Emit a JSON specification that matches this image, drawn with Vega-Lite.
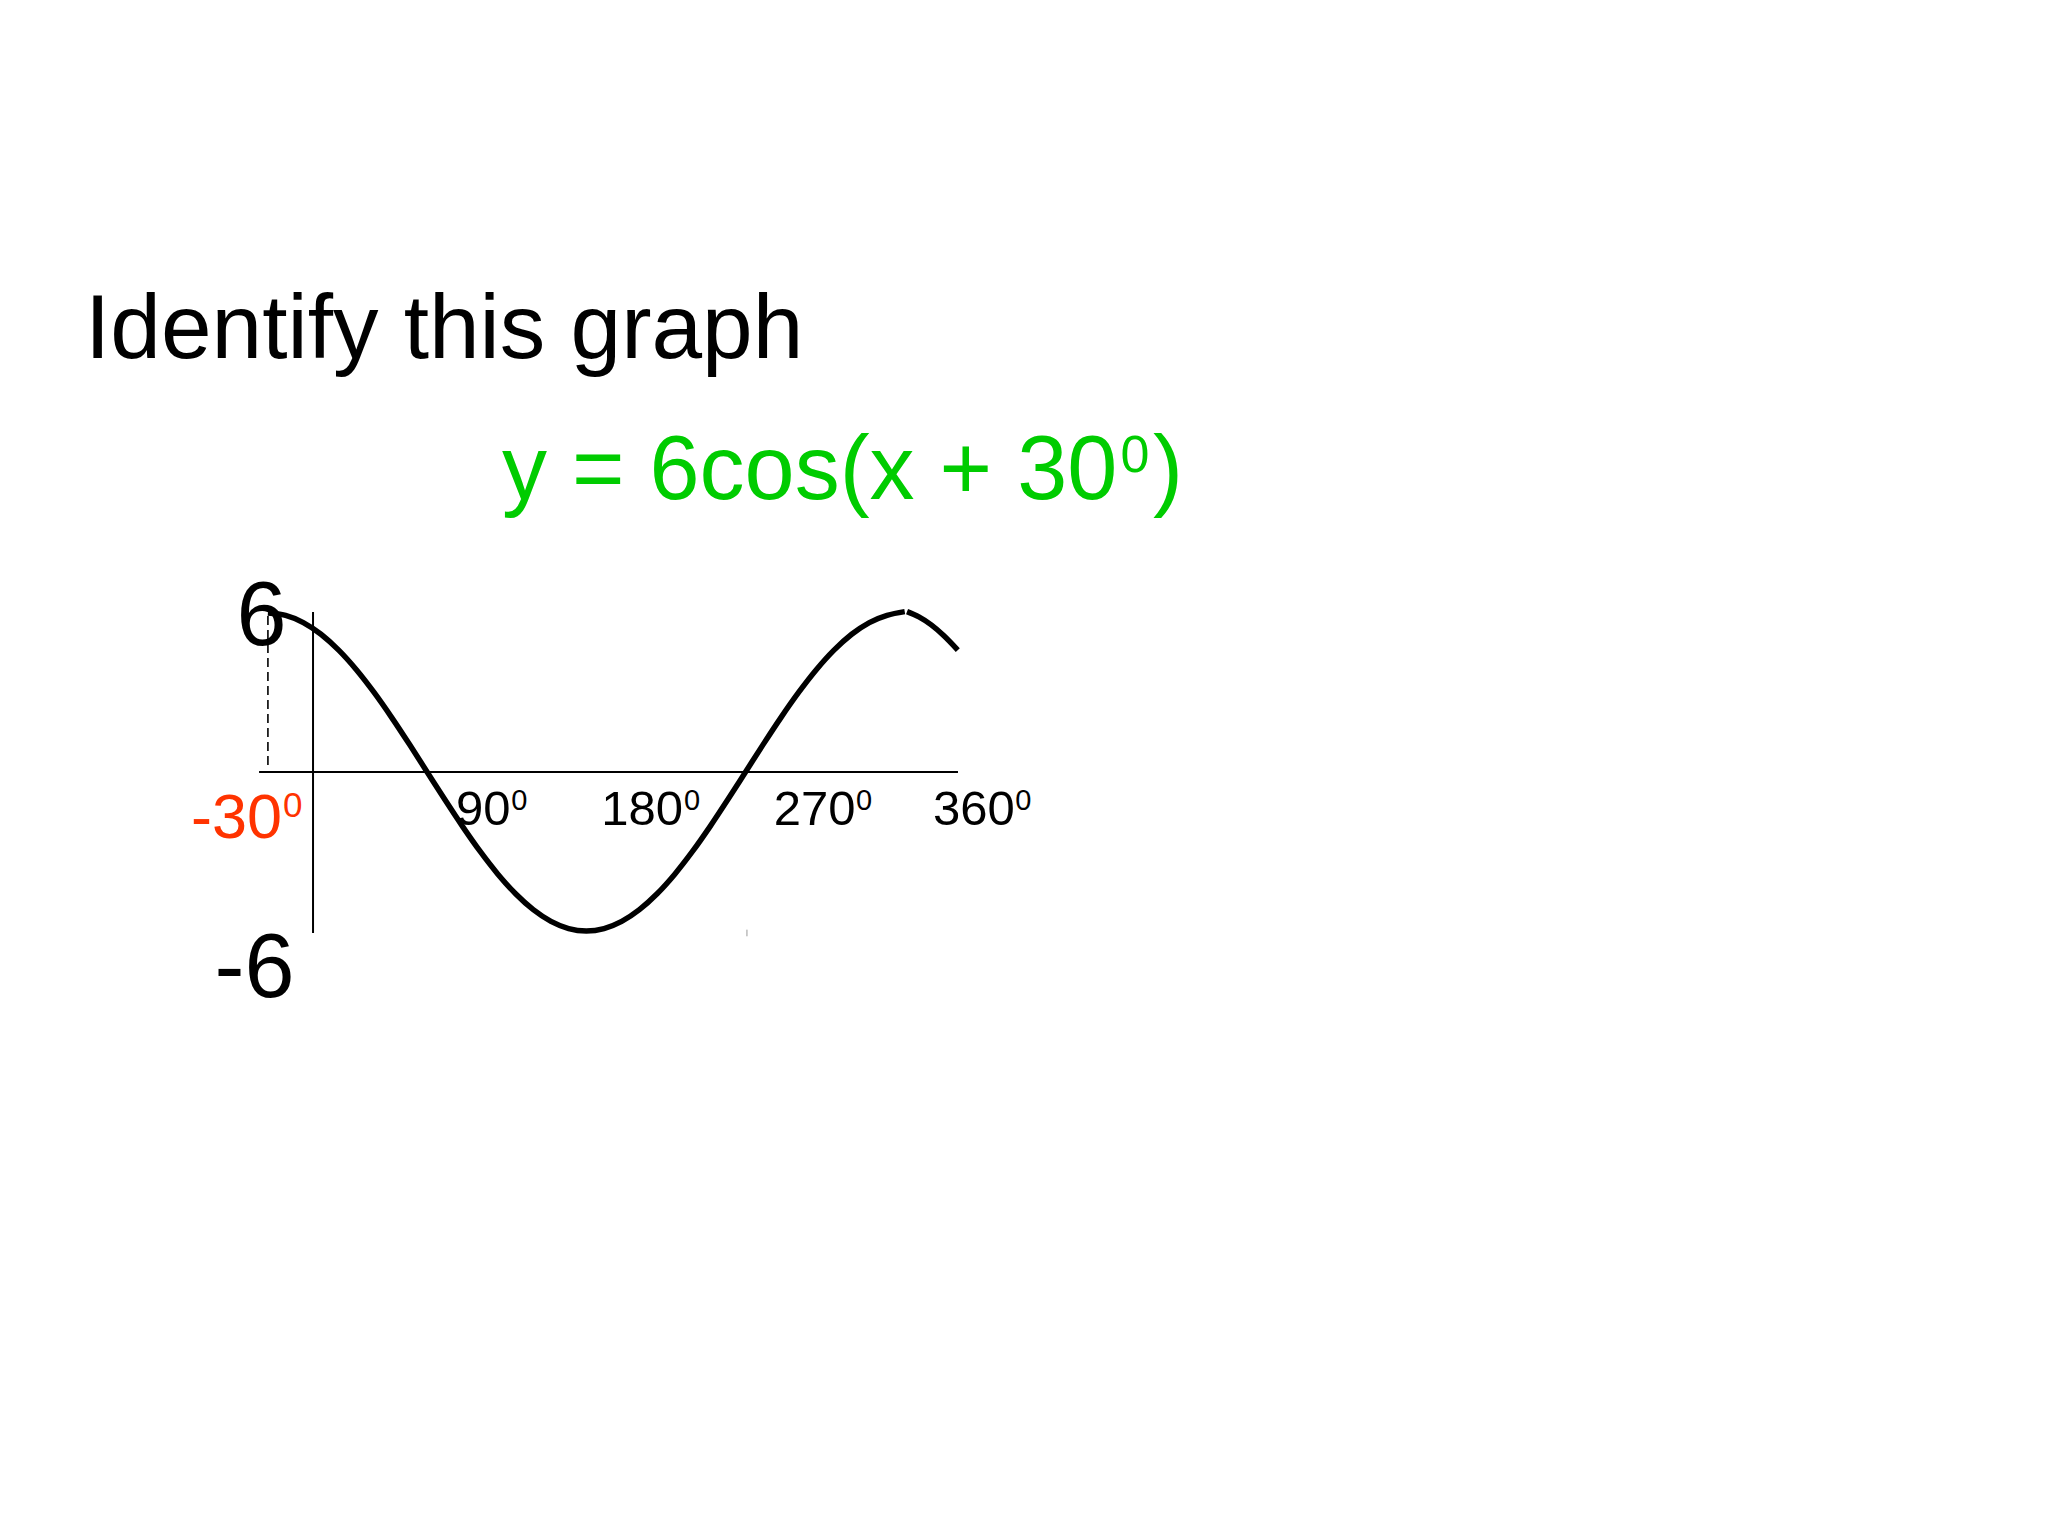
{
  "$schema": "https://vega.github.io/schema/vega-lite/v6.json",
  "width": 2048,
  "height": 1536,
  "padding": 0,
  "autosize": {"type": "fit", "contains": "padding"},
  "background": "white",
  "config": {"view": {"stroke": null}, "text": {"font": "Liberation Sans"}},
  "datasets": {
    "curve": [
      {"seg": "A", "deg": -30, "y": 6},
      {"seg": "A", "deg": -20, "y": 5.909},
      {"seg": "A", "deg": -10, "y": 5.638},
      {"seg": "A", "deg": 0, "y": 5.196},
      {"seg": "A", "deg": 10, "y": 4.596},
      {"seg": "A", "deg": 20, "y": 3.857},
      {"seg": "A", "deg": 30, "y": 3.0},
      {"seg": "A", "deg": 40, "y": 2.052},
      {"seg": "A", "deg": 50, "y": 1.042},
      {"seg": "A", "deg": 60, "y": 0},
      {"seg": "A", "deg": 70, "y": -1.042},
      {"seg": "A", "deg": 80, "y": -2.052},
      {"seg": "A", "deg": 90, "y": -3.0},
      {"seg": "A", "deg": 100, "y": -3.857},
      {"seg": "A", "deg": 110, "y": -4.596},
      {"seg": "A", "deg": 120, "y": -5.196},
      {"seg": "A", "deg": 130, "y": -5.638},
      {"seg": "A", "deg": 140, "y": -5.909},
      {"seg": "A", "deg": 150, "y": -6},
      {"seg": "A", "deg": 160, "y": -5.909},
      {"seg": "A", "deg": 170, "y": -5.638},
      {"seg": "A", "deg": 180, "y": -5.196},
      {"seg": "A", "deg": 190, "y": -4.596},
      {"seg": "A", "deg": 200, "y": -3.857},
      {"seg": "A", "deg": 210, "y": -3.0},
      {"seg": "A", "deg": 220, "y": -2.052},
      {"seg": "A", "deg": 230, "y": -1.042},
      {"seg": "A", "deg": 240, "y": 0},
      {"seg": "A", "deg": 250, "y": 1.042},
      {"seg": "A", "deg": 260, "y": 2.052},
      {"seg": "A", "deg": 270, "y": 3.0},
      {"seg": "A", "deg": 280, "y": 3.857},
      {"seg": "A", "deg": 290, "y": 4.596},
      {"seg": "A", "deg": 300, "y": 5.196},
      {"seg": "A", "deg": 310, "y": 5.638},
      {"seg": "A", "deg": 320, "y": 5.909},
      {"seg": "A", "deg": 330, "y": 6.05},
      {"seg": "B", "deg": 331.3, "y": 6.05},
      {"seg": "B", "deg": 338, "y": 5.85},
      {"seg": "B", "deg": 345, "y": 5.55},
      {"seg": "B", "deg": 352, "y": 5.15},
      {"seg": "B", "deg": 360, "y": 4.6}
    ],
    "labels": [
      {"role": "title", "text": "Identify this graph", "deg": -133.4, "y": 15.62},
      {"role": "eq", "text": "y = 6cos(x + 30", "deg": 102.3, "y": 10.3},
      {"role": "eqsup", "text": "0", "deg": 452.0, "y": 11.32},
      {"role": "eq", "text": ")", "deg": 470.3, "y": 10.3},
      {"role": "big", "text": "6", "deg": -33.6, "y": 4.79},
      {"role": "big", "text": "-6", "deg": -37.6, "y": -8.49},
      {"role": "red", "text": "-30", "deg": -73.5, "y": -2.49},
      {"role": "redsup", "text": "0", "deg": -21.5, "y": -1.7},
      {"role": "tick", "text": "90", "deg": 76.3, "y": -2.0},
      {"role": "tick", "text": "180", "deg": 158.5, "y": -2.0},
      {"role": "tick", "text": "270", "deg": 256.0, "y": -2.0},
      {"role": "tick", "text": "360", "deg": 346.0, "y": -2.0},
      {"role": "ticksup", "text": "0", "deg": 107.5, "y": -1.43},
      {"role": "ticksup", "text": "0", "deg": 205.2, "y": -1.43},
      {"role": "ticksup", "text": "0", "deg": 302.5, "y": -1.43},
      {"role": "ticksup", "text": "0", "deg": 392.5, "y": -1.43}
    ]
  },
  "layer": [
    {
      "data": {"values": [{"x1": -35, "x2": 360.1, "y": 0}]},
      "mark": {"type": "rule", "color": "black", "strokeWidth": 2},
      "encoding": {
        "x": {"field": "x1", "type": "quantitative", "scale": {"domain": [-181.46, 976.3], "nice": false, "zero": false}, "axis": null},
        "x2": {"field": "x2"},
        "y": {"field": "y", "type": "quantitative", "scale": {"domain": [-28.83, 29.13], "nice": false, "zero": false}, "axis": null}
      }
    },
    {
      "data": {"values": [{"x": -4.5, "y1": -6.08, "y2": 6.04}]},
      "mark": {"type": "rule", "color": "black", "strokeWidth": 2},
      "encoding": {
        "x": {"field": "x", "type": "quantitative"},
        "y": {"field": "y1", "type": "quantitative"},
        "y2": {"field": "y2"}
      }
    },
    {
      "data": {"values": [{"x": -30, "y1": 0.26, "y2": 5.92}]},
      "mark": {"type": "rule", "color": "black", "strokeWidth": 1.6, "strokeDash": [9, 5]},
      "encoding": {
        "x": {"field": "x", "type": "quantitative"},
        "y": {"field": "y1", "type": "quantitative"},
        "y2": {"field": "y2"}
      }
    },
    {
      "data": {"values": [{"x": 240.8, "y1": -5.95, "y2": -6.2}]},
      "mark": {"type": "rule", "color": "#999999", "strokeWidth": 1},
      "encoding": {
        "x": {"field": "x", "type": "quantitative"},
        "y": {"field": "y1", "type": "quantitative"},
        "y2": {"field": "y2"}
      }
    },
    {
      "data": {"name": "curve"},
      "mark": {"type": "line", "color": "black", "strokeWidth": 5.5, "interpolate": "monotone", "strokeCap": "butt"},
      "encoding": {
        "x": {"field": "deg", "type": "quantitative"},
        "y": {"field": "y", "type": "quantitative"},
        "detail": {"field": "seg"},
        "order": {"field": "deg"}
      }
    },
    {
      "data": {"name": "labels"},
      "transform": [{"filter": "datum.role === 'title'"}],
      "mark": {"type": "text", "fontSize": 91, "color": "black", "align": "left", "baseline": "alphabetic"},
      "encoding": {"x": {"field": "deg", "type": "quantitative"}, "y": {"field": "y", "type": "quantitative"}, "text": {"field": "text"}}
    },
    {
      "data": {"name": "labels"},
      "transform": [{"filter": "datum.role === 'eq'"}],
      "mark": {"type": "text", "fontSize": 90, "color": "#00CC00", "align": "left", "baseline": "alphabetic"},
      "encoding": {"x": {"field": "deg", "type": "quantitative"}, "y": {"field": "y", "type": "quantitative"}, "text": {"field": "text"}}
    },
    {
      "data": {"name": "labels"},
      "transform": [{"filter": "datum.role === 'eqsup'"}],
      "mark": {"type": "text", "fontSize": 52, "color": "#00CC00", "align": "left", "baseline": "alphabetic"},
      "encoding": {"x": {"field": "deg", "type": "quantitative"}, "y": {"field": "y", "type": "quantitative"}, "text": {"field": "text"}}
    },
    {
      "data": {"name": "labels"},
      "transform": [{"filter": "datum.role === 'big'"}],
      "mark": {"type": "text", "fontSize": 90, "color": "black", "align": "center", "baseline": "alphabetic"},
      "encoding": {"x": {"field": "deg", "type": "quantitative"}, "y": {"field": "y", "type": "quantitative"}, "text": {"field": "text"}}
    },
    {
      "data": {"name": "labels"},
      "transform": [{"filter": "datum.role === 'red'"}],
      "mark": {"type": "text", "fontSize": 63, "color": "#FF3300", "align": "left", "baseline": "alphabetic"},
      "encoding": {"x": {"field": "deg", "type": "quantitative"}, "y": {"field": "y", "type": "quantitative"}, "text": {"field": "text"}}
    },
    {
      "data": {"name": "labels"},
      "transform": [{"filter": "datum.role === 'redsup'"}],
      "mark": {"type": "text", "fontSize": 35, "color": "#FF3300", "align": "left", "baseline": "alphabetic"},
      "encoding": {"x": {"field": "deg", "type": "quantitative"}, "y": {"field": "y", "type": "quantitative"}, "text": {"field": "text"}}
    },
    {
      "data": {"name": "labels"},
      "transform": [{"filter": "datum.role === 'tick'"}],
      "mark": {"type": "text", "fontSize": 49, "color": "black", "align": "left", "baseline": "alphabetic"},
      "encoding": {"x": {"field": "deg", "type": "quantitative"}, "y": {"field": "y", "type": "quantitative"}, "text": {"field": "text"}}
    },
    {
      "data": {"name": "labels"},
      "transform": [{"filter": "datum.role === 'ticksup'"}],
      "mark": {"type": "text", "fontSize": 29, "color": "black", "align": "left", "baseline": "alphabetic"},
      "encoding": {"x": {"field": "deg", "type": "quantitative"}, "y": {"field": "y", "type": "quantitative"}, "text": {"field": "text"}}
    }
  ]
}
